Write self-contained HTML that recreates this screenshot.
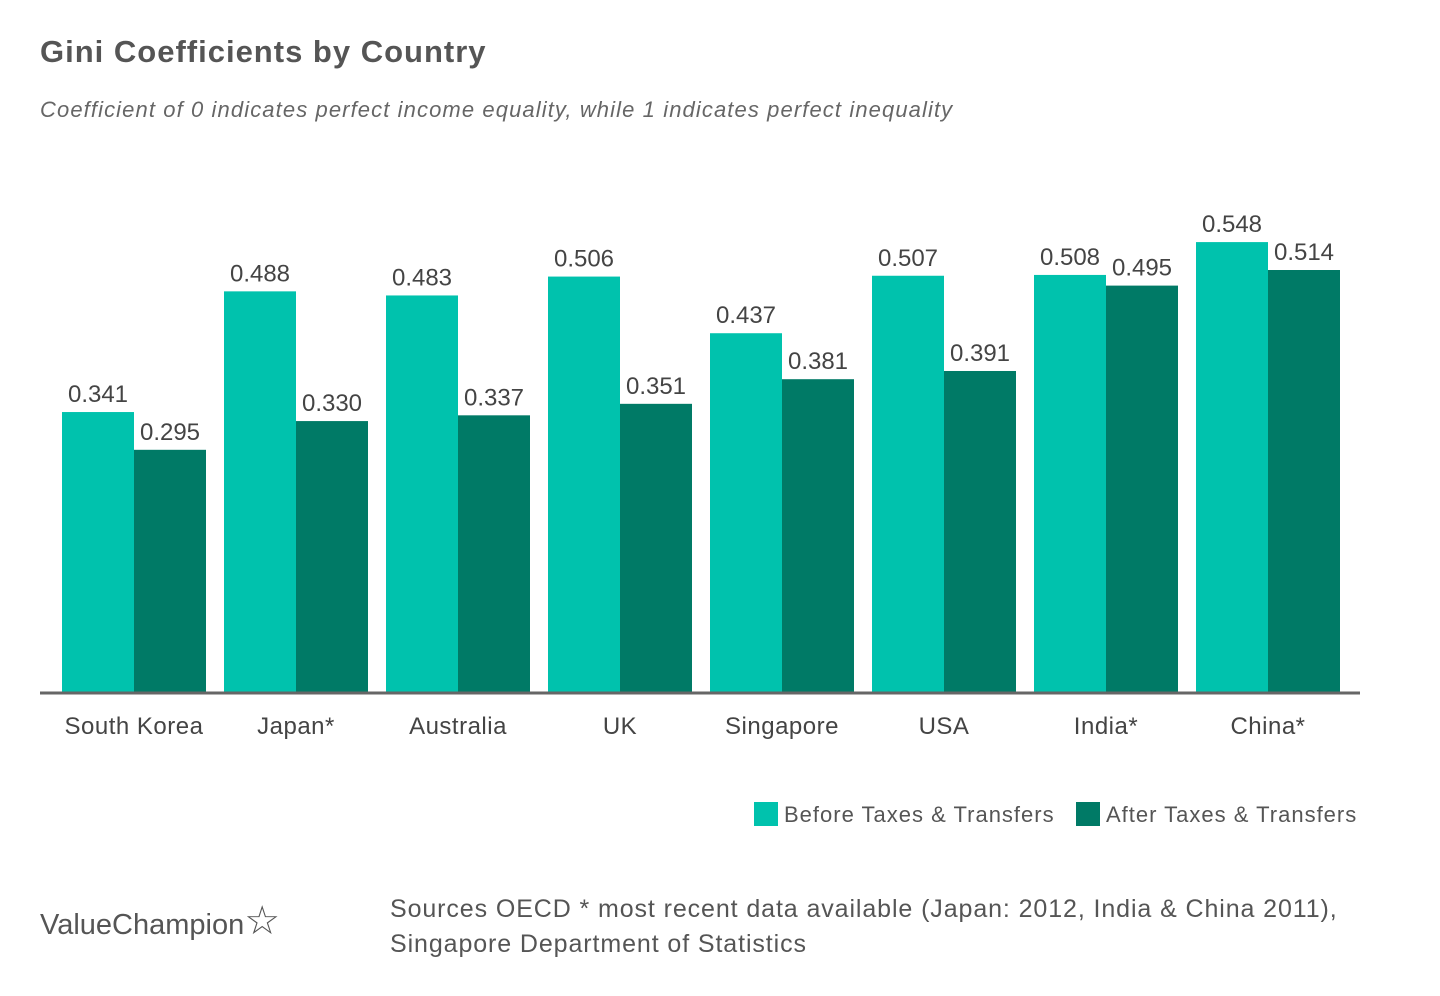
<!DOCTYPE html>
<html><head><meta charset="utf-8"><style>
body{margin:0;background:#fff;font-family:"Liberation Sans",sans-serif;}
#wrap{position:relative;width:1440px;height:996px;overflow:hidden;}
.t{position:absolute;white-space:nowrap;}
</style></head><body><div id="wrap">
<div class="t" style="left:40px;top:34px;font-size:31px;font-weight:bold;color:#555;letter-spacing:1px;">Gini Coefficients by Country</div>
<div class="t" style="left:40px;top:97px;font-size:22px;font-style:italic;color:#666;letter-spacing:1.1px;">Coefficient of 0 indicates perfect income equality, while 1 indicates perfect inequality</div>
<svg id="chart" width="1440" height="996" style="position:absolute;left:0;top:0"></svg>
<div class="t" style="left:40px;top:898px;font-size:29px;color:#555;">ValueChampion<span style="font-size:40px">☆</span></div>
<div class="t" style="left:390px;top:892px;font-size:25px;color:#555;line-height:35px;letter-spacing:0.9px;">Sources OECD * most recent data available (Japan: 2012, India &amp; China 2011),<br>Singapore Department of Statistics</div>
</div>
<script>
const categories=["South Korea","Japan*","Australia","UK","Singapore","USA","India*","China*"];
const beforeVals=[0.341,0.488,0.483,0.506,0.437,0.507,0.508,0.548];
const afterVals=[0.295,0.330,0.337,0.351,0.381,0.391,0.495,0.514];
const seriesNames=["Before Taxes & Transfers","After Taxes & Transfers"];
const colors=["#00c2ad","#007a66"];
const svg=document.getElementById('chart');
const NS="http://www.w3.org/2000/svg";
const baseY=692, scale=821, x0=62, groupW=162, barW=72;
const y=v=>baseY-v*scale;
const xg=i=>x0+i*groupW;
function mk(tag,attrs,text){const e=document.createElementNS(NS,tag);for(const k in attrs)e.setAttribute(k,attrs[k]);if(text!==undefined)e.textContent=text;svg.appendChild(e);return e;}
[beforeVals,afterVals].forEach((vals,s)=>{
  vals.forEach((v,i)=>{
    const bx=xg(i)+s*barW;
    const r=mk('rect',{x:bx,y:y(v),width:barW,height:v*scale,fill:colors[s]});
    
    
    const t=mk('text',{x:bx+barW/2,y:y(v)-10,'text-anchor':'middle','font-size':24,fill:'#444','font-family':'Liberation Sans, sans-serif'},v.toFixed(3));
    
    
  });
});
categories.forEach((c,i)=>{
  const t=mk('text',{x:xg(i)+barW,y:734,'text-anchor':'middle','font-size':24,fill:'#444','font-family':'Liberation Sans, sans-serif','letter-spacing':0.5},c);
  
  
});
const ax=mk('line',{x1:40,x2:1360,y1:baseY+1,y2:baseY+1,stroke:'#666','stroke-width':3});


const lx=[754,1076];
seriesNames.forEach((n,s)=>{
  const r=mk('rect',{x:lx[s],y:802,width:24,height:24,fill:colors[s]});
  
  
  const t=mk('text',{x:lx[s]+30,y:822,'font-size':22,fill:'#555','font-family':'Liberation Sans, sans-serif','letter-spacing':1},n);
  
  
});
</script></body></html>
